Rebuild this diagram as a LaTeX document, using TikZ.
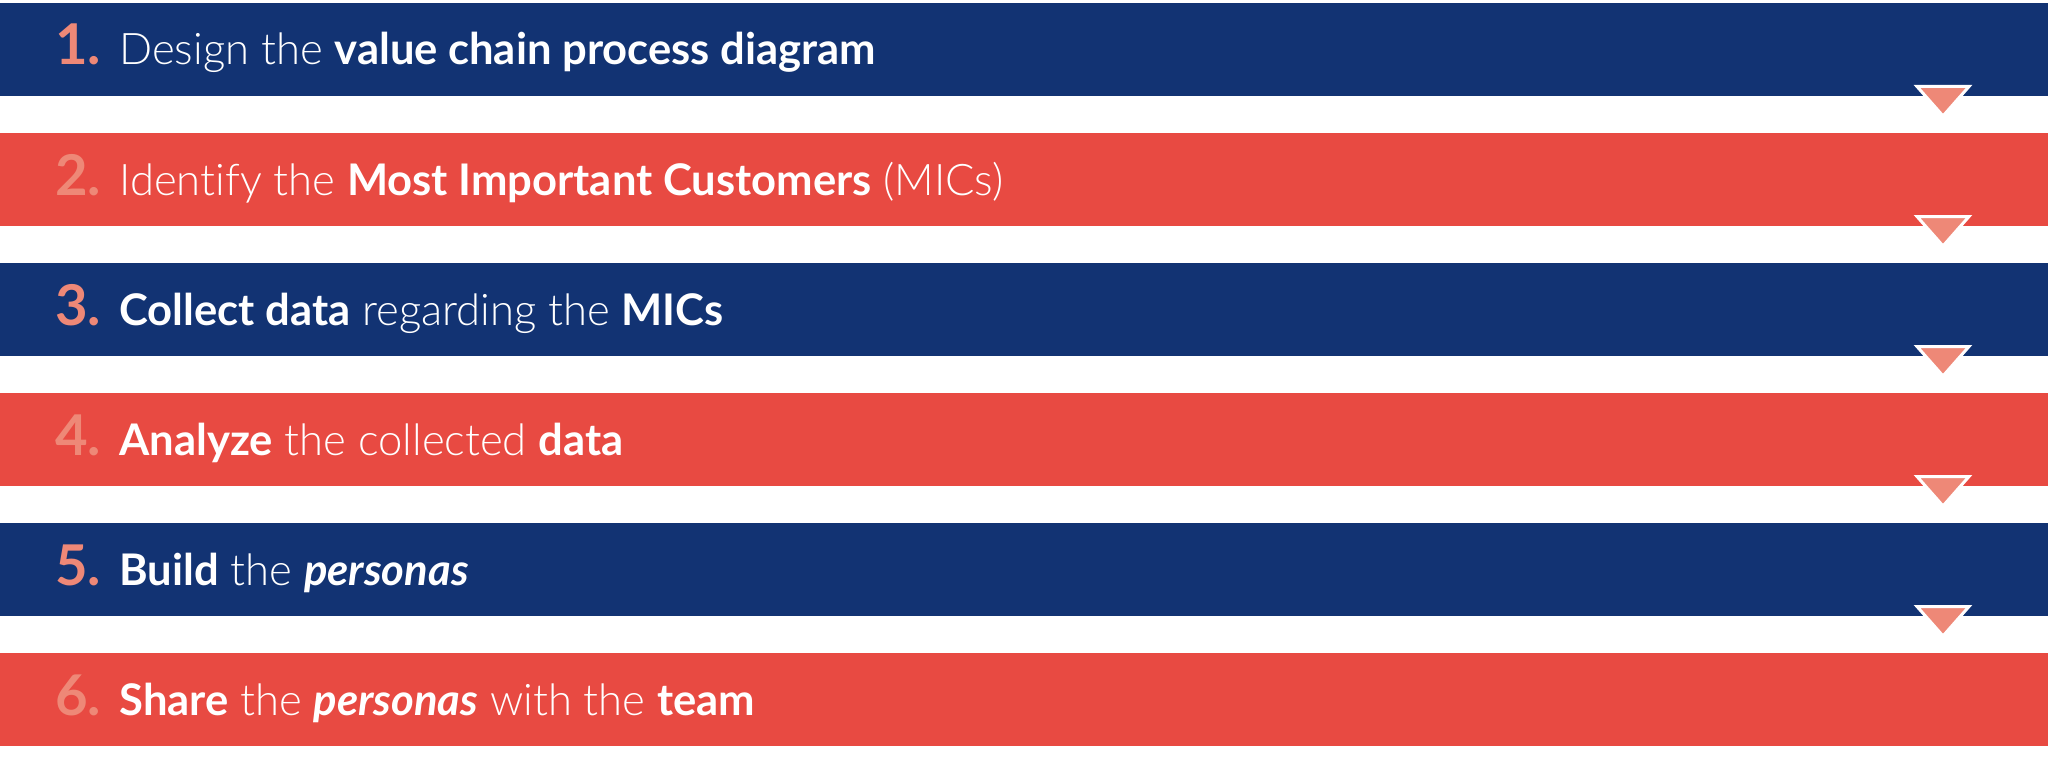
\documentclass[tikz,border=0pt]{standalone}
\usepackage{fontspec}
\setmainfont{Lato Light}[BoldFont=Lato Bold,BoldItalicFont=Lato Bold Italic,Ligatures=CommonOff]
\usepackage{tikz}
\definecolor{navy}{RGB}{18,51,115}
\definecolor{brick}{RGB}{232,74,66}
\definecolor{salmon}{RGB}{238,136,119}

\begin{document}
\begin{tikzpicture}[x=0.02cm,y=-0.02cm,
  bar/.style={minimum width=40.96cm,minimum height=1.86cm,inner sep=0,outer sep=0},
  num/.style={anchor=base west,inner sep=0,text=salmon,font=\fontsize{32}{36}\selectfont\bfseries},
  lbl/.style={anchor=base west,inner sep=0,text=white,font=\fontsize{24.8}{29}\selectfont},
  arr/.style={fill=salmon,draw=white,line width=0.06cm}]
\useasboundingbox (0,0) rectangle (2048,767);
% bars
\node[bar,fill=navy] (bar1) at (1024,49.5) {};
\node[bar,fill=brick] (bar2) at (1024,179.5) {};
\node[bar,fill=navy] (bar3) at (1024,309.5) {};
\node[bar,fill=brick] (bar4) at (1024,439.5) {};
\node[bar,fill=navy] (bar5) at (1024,569.5) {};
\node[bar,fill=brick] (bar6) at (1024,699.5) {};
% arrows between the bars
\draw[arr] (1917,86.5) -- (1969,86.5) -- (1943,116) -- cycle;
\draw[arr] (1917,216.5) -- (1969,216.5) -- (1943,246) -- cycle;
\draw[arr] (1917,346.5) -- (1969,346.5) -- (1943,376) -- cycle;
\draw[arr] (1917,476.5) -- (1969,476.5) -- (1943,506) -- cycle;
\draw[arr] (1917,606.5) -- (1969,606.5) -- (1943,636) -- cycle;
% steps
\node[num] (num1) at (55,65) {1.};
\node[lbl] (step1) at (119,65) {Design the \textbf{value chain process diagram}};
\node[num] (num2) at (55,195) {2.};
\node[lbl] (step2) at (119,195) {Identify the \textbf{Most Important Customers} (MICs)};
\node[num] (num3) at (55,325) {3.};
\node[lbl] (step3) at (119,325) {\textbf{Collect data} regarding the \textbf{MICs}};
\node[num] (num4) at (55,455) {4.};
\node[lbl] (step4) at (119,455) {\textbf{Analyze} the collected \textbf{data}};
\node[num] (num5) at (55,585) {5.};
\node[lbl] (step5) at (119,585) {\textbf{Build} the \textbf{\textit{personas}}};
\node[num] (num6) at (55,715) {6.};
\node[lbl] (step6) at (119,715) {\textbf{Share} the \textbf{\textit{personas}} with the \textbf{team}};
\end{tikzpicture}
\end{document}
